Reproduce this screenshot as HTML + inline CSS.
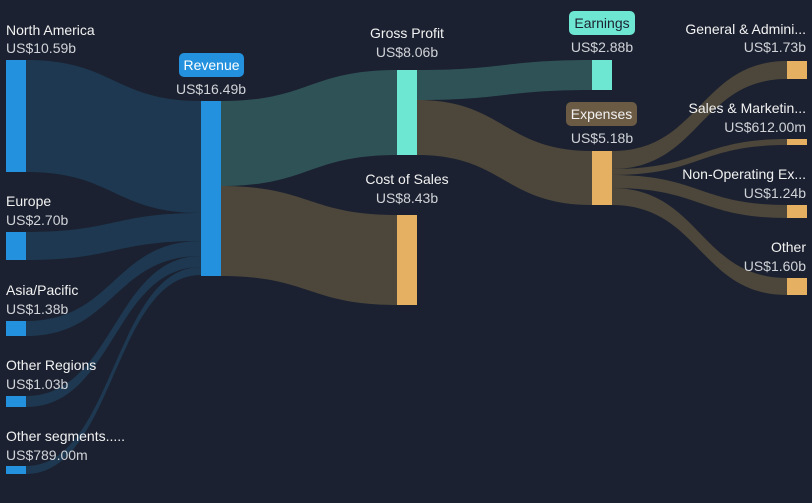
<!DOCTYPE html>
<html><head><meta charset="utf-8"><style>
html,body{margin:0;padding:0;background:#1b2130;}
svg{display:block;font-family:"Liberation Sans",sans-serif;}
.l{fill:#f2f2f2;font-size:14px;}
.v{fill:#d0d3d8;font-size:14px;}
</style></head><body>
<svg width="812" height="503" viewBox="0 0 812 503" xmlns="http://www.w3.org/2000/svg">
<rect width="812" height="503" fill="#1b2130"/>
<g fill="#1e3a52" opacity="0.95">
<path d="M26 60 C114 60 114 101 201 101 L201 213 C114 213 114 172 26 172Z"/>
<path d="M26 232 C114 232 114 213 201 213 L201 241 C114 241 114 260 26 260Z"/>
<path d="M26 321 C114 321 114 241 201 241 L201 256 C114 256 114 336 26 336Z"/>
<path d="M26 396 C114 396 114 256 201 256 L201 267 C114 267 114 407 26 407Z"/>
<path d="M26 466 C114 466 114 267 201 267 L201 275 C114 275 114 474 26 474Z"/>
</g>
<path fill="#2f5257" d="M221 101 C309 101 309 70 397 70 L397 155 C309 155 309 186 221 186Z"/>
<path fill="#4c463b" d="M221 186 C309 186 309 215 397 215 L397 305 C309 305 309 276 221 276Z"/>
<path fill="#2f5257" d="M417 70 C504 70 504 60 592 60 L592 90 C504 90 504 100 417 100Z"/>
<path fill="#4c463b" d="M417 100 C504 100 504 151 592 151 L592 205 C504 205 504 155 417 155Z"/>
<g fill="#4c463b">
<path d="M612 151 C700 151 700 61 787 61 L787 79 C700 79 700 169 612 169Z"/>
<path d="M612 169 C700 169 700 139 787 139 L787 145 C700 145 700 175 612 175Z"/>
<path d="M612 175 C700 175 700 205 787 205 L787 218 C700 218 700 188 612 188Z"/>
<path d="M612 188 C700 188 700 278 787 278 L787 295 C700 295 700 205 612 205Z"/>
</g>
<g fill="#2391dd">
<rect x="6" y="60" width="20" height="112"/>
<rect x="6" y="232" width="20" height="28"/>
<rect x="6" y="321" width="20" height="15"/>
<rect x="6" y="396" width="20" height="11"/>
<rect x="6" y="466" width="20" height="8"/>
<rect x="201" y="101" width="20" height="175"/>
</g>
<rect x="397" y="70" width="20" height="85" fill="#6ee7d2"/>
<rect x="592" y="60" width="20" height="30" fill="#6ee7d2"/>
<g fill="#e6b062">
<rect x="397" y="215" width="20" height="90"/>
<rect x="592" y="151" width="20" height="54"/>
<rect x="787" y="61" width="20" height="18"/>
<rect x="787" y="139" width="20" height="6"/>
<rect x="787" y="205" width="20" height="13"/>
<rect x="787" y="278" width="20" height="17"/>
</g>
<text class="l" x="6" y="35">North America</text><text class="v" x="6" y="53">US$10.59b</text>
<text class="l" x="6" y="206">Europe</text><text class="v" x="6" y="225">US$2.70b</text>
<text class="l" x="6" y="295">Asia/Pacific</text><text class="v" x="6" y="314">US$1.38b</text>
<text class="l" x="6" y="370">Other Regions</text><text class="v" x="6" y="389">US$1.03b</text>
<text class="l" x="6" y="441">Other segments.....</text><text class="v" x="6" y="460">US$789.00m</text>
<rect x="179" y="53" width="65" height="24" rx="5" fill="#2391dd"/>
<text class="l" x="211.5" y="70" text-anchor="middle" style="fill:#fff">Revenue</text>
<text class="v" x="211" y="94" text-anchor="middle">US$16.49b</text>
<text class="l" x="407" y="38" text-anchor="middle">Gross Profit</text><text class="v" x="407" y="57" text-anchor="middle">US$8.06b</text>
<text class="l" x="407" y="184" text-anchor="middle">Cost of Sales</text><text class="v" x="407" y="203" text-anchor="middle">US$8.43b</text>
<rect x="569" y="11" width="66" height="24" rx="5" fill="#6ee7d2"/>
<text class="l" x="602" y="28" text-anchor="middle" style="fill:#1b2130">Earnings</text>
<text class="v" x="602" y="52" text-anchor="middle">US$2.88b</text>
<rect x="566" y="102" width="71" height="24" rx="5" fill="#6b5a44"/>
<text class="l" x="601.5" y="119" text-anchor="middle">Expenses</text>
<text class="v" x="602" y="143" text-anchor="middle">US$5.18b</text>
<text class="l" x="806" y="34" text-anchor="end">General &amp; Admini...</text><text class="v" x="806" y="52" text-anchor="end">US$1.73b</text>
<text class="l" x="806" y="113" text-anchor="end">Sales &amp; Marketin...</text><text class="v" x="806" y="132" text-anchor="end">US$612.00m</text>
<text class="l" x="806" y="179" text-anchor="end">Non-Operating Ex...</text><text class="v" x="806" y="198" text-anchor="end">US$1.24b</text>
<text class="l" x="806" y="252" text-anchor="end">Other</text><text class="v" x="806" y="271" text-anchor="end">US$1.60b</text>
</svg>
</body></html>
